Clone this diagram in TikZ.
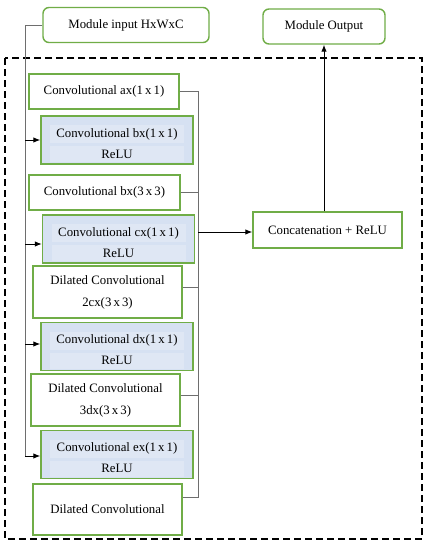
\documentclass[tikz,border=0pt]{standalone}
\usepackage{fontspec}
\setmainfont{Liberation Serif}
\usetikzlibrary{arrows.meta}
\definecolor{grn}{HTML}{70AD47}
\definecolor{bfill}{HTML}{D6E1F2}
\definecolor{bband}{HTML}{DFE7F4}
\definecolor{lgray}{HTML}{6E6E6E}
\tikzset{
  wbox/.style={draw=grn, line width=1.4pt, fill=white, inner sep=0pt, align=center, font=\fontsize{12.8}{22}\selectfont},
  rbox/.style={wbox, rounded corners=6pt},
  bbox/.style={draw=grn, line width=1.4pt, fill=bfill, inner sep=0pt},
  band/.style={fill=bband, inner sep=0pt, minimum width=134pt, minimum height=18pt, font=\fontsize{12.8}{14}\selectfont},
  conn/.style={draw=lgray, line width=1pt},
  arr/.style={draw=black, line width=1pt, -{Latex[length=7pt,width=5.5pt]}},
}
\newcommand{\bluebox}[4]{% name, x, y, label
  \node[bbox, minimum width=152pt, minimum height=48pt] (#1) at (#2,#3) {};
  \node[band] (#1t) at (#2,#3-6) {#4};
  \node[band, minimum height=16pt] (#1r) at (#2,#3+14) {ReLU};
}
\begin{document}
\begin{tikzpicture}[x=1pt,y=-1pt]
\useasboundingbox (0,0) rectangle (430,550);
\fill[white] (0,0) rectangle (430,550);
\draw[black, line width=1.8pt, dash pattern=on 7pt off 4pt] (5,58) rectangle (422,539);

\node[rbox, minimum width=166pt, minimum height=35pt] (in) at (126,25) {Module input HxWxC};
\node[rbox, minimum width=122pt, minimum height=35pt] (out) at (324,26.5) {Module Output};

\node[wbox, minimum width=150pt, minimum height=35pt] (ax) at (104,91.5) {Convolutional ax(1\,x\,1)};
\bluebox{bxr}{117}{140}{Convolutional bx(1\,x\,1)}
\node[wbox, minimum width=151pt, minimum height=35pt] (bx3) at (104.5,192.5) {Convolutional bx(3\,x\,3)};
\bluebox{cxr}{118.5}{239}{Convolutional cx(1\,x\,1)}
\node[wbox, minimum width=149pt, minimum height=52pt] (d2) at (107.5,292) {Dilated Convolutional\\2cx(3\,x\,3)};
\bluebox{dxr}{117}{346.5}{Convolutional dx(1\,x\,1)}
\node[wbox, minimum width=149pt, minimum height=52pt] (d3) at (105.5,400) {Dilated Convolutional\\3dx(3\,x\,3)};
\bluebox{exr}{117}{454.5}{Convolutional ex(1\,x\,1)}
\node[wbox, minimum width=149pt, minimum height=51pt] (d4) at (107.5,509.5) {Dilated Convolutional};

\node[wbox, minimum width=149pt, minimum height=36pt] (cat) at (327.5,230) {Concatenation + ReLU};

% input distribution
\coordinate (tl) at (25,456);
\draw[conn] (in.west) -| (tl);
\draw[arr] (tl |- bxr.west) -- (bxr.west);
\draw[arr] ([yshift=-5pt]cxr.west -| tl) -- ([yshift=-5pt]cxr.west);
\draw[arr] ([yshift=2.5pt]dxr.west -| tl) -- ([yshift=2.5pt]dxr.west);
\draw[arr] ([yshift=-1.5pt]exr.west -| tl) -- ([yshift=-1.5pt]exr.west);

% collector
\coordinate (ct) at (198,91.5);
\coordinate (cb) at (198,497);
\draw[conn] (ax.east) -- (ct) -- (cb) -- (cb -| d4.east);
\draw[conn] (bx3.east) -- (bx3.east -| ct);
\draw[conn] ([yshift=5pt]d2.east) -- ([yshift=5pt]d2.east -| ct);
\draw[conn] ([yshift=5pt]d3.east) -- ([yshift=5pt]d3.east -| ct);
\draw[arr] ([yshift=-2pt]cat.west -| ct) -- ([yshift=-2pt]cat.west);
\draw[arr] (out.south |- cat.north) -- (out.south);
\end{tikzpicture}
\end{document}
